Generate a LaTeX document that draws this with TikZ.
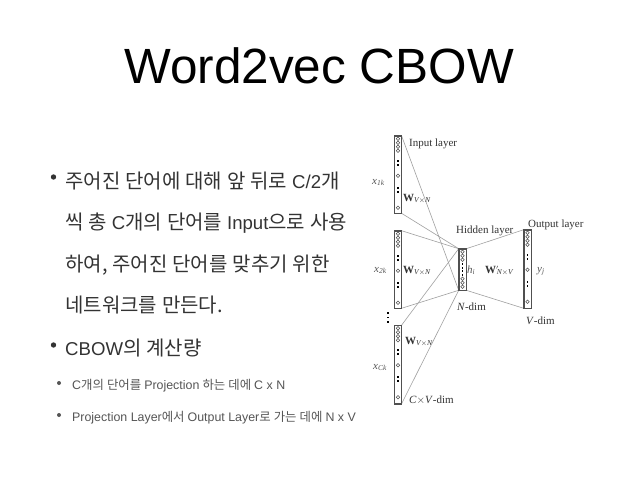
\documentclass[tikz,border=0pt]{standalone}
\usepackage{fontspec}
\setmainfont{Liberation Sans}
\newfontfamily\kr[WordSpace=1.1]{Noto Sans CJK KR}
\newfontfamily\ttl{Liberation Sans}
\newfontfamily\arl[Scale=0.93]{Liberation Sans}
\newfontfamily\arn{Liberation Sans}
\newfontfamily\tms{Liberation Serif}
\newcommand\lat[1]{{\arl #1}}
\newcommand\latn[1]{{\arn #1}}
\definecolor{bodyc}{HTML}{333333}
\definecolor{subc}{HTML}{555555}
\definecolor{colc}{HTML}{505050}
\definecolor{linec}{HTML}{A0A0A0}
\definecolor{labc}{HTML}{333333}
\definecolor{mathc}{HTML}{555555}
\tikzset{
  body/.style={font=\kr\fontsize{20}{22}\selectfont, text=bodyc, inner sep=0pt, anchor=base west},
  subtext/.style={font=\kr\fontsize{12.4}{13}\selectfont, text=subc, inner sep=0pt, anchor=base west},
  lab/.style={font=\tms\fontsize{11}{12}\selectfont, text=labc, inner sep=0pt, anchor=base west},
  mlab/.style={font=\tms\fontsize{11}{12}\selectfont, text=mathc, inner sep=0pt, anchor=base west},
  layer/.style={draw=colc, line width=0.6pt, rectangle, inner sep=0pt, minimum width=6.5pt},
  conn/.style={draw=linec, line width=0.6pt},
  cir/.style={draw=colc, line width=0.5pt},
  dotc/.style={fill=black},
}
\newcommand\sbs[1]{\textsubscript{\fontsize{7.5}{8}\selectfont\itshape #1}}
\newcommand\incol[1]{%
  \foreach \yy in {3,7,11,15,40,72}{\draw[cir] ([yshift=-\yy pt]#1.north) circle (1.7pt);}
  \foreach \yy in {25,29,52,56}{\fill[dotc] ([xshift=-0.8pt,yshift=-\yy pt-0.8pt]#1.north) rectangle ++(1.6pt,1.6pt);}
}
\newcommand\hidcol[1]{%
  \foreach \yy in {3,7,11,30,34,38}{\draw[cir] ([yshift=-\yy pt]#1.north) circle (1.7pt);}
  \foreach \yy in {15.5,19,22.5,26}{\fill[dotc] ([xshift=-0.8pt,yshift=-\yy pt-0.8pt]#1.north) rectangle ++(1.6pt,1.6pt);}
}
\begin{document}
\begin{tikzpicture}[x=1pt,y=1pt]
\useasboundingbox[fill=white] (0,0) rectangle (638,-479);

% title
\node[font=\ttl\fontsize{49.5}{50}\selectfont, inner sep=0pt, anchor=base] (title) at (319,-83) {Word2vec CBOW};

% bullets
\fill[bodyc] (53.5,-177) circle (2.7pt);
\node[body] (l1) at (65,-188) {주어진 단어에 대해 앞 뒤로 \lat{C/2}개};
\node[body] (l2) at (65,-229.5) {씩 총 \lat{C}개의 단어를 \lat{Input}으로 사용};
\node[body] (l3) at (65,-271) {하여, 주어진 단어를 맞추기 위한};
\node[body] (l4) at (65,-312.5) {네트워크를 만든다.};
\fill[bodyc] (53.5,-345) circle (2.7pt);
\node[body] (l5) at (65,-355) {\lat{CBOW}의 계산량};
\fill[subc] (59,-383) circle (2pt);
\node[subtext] (s1) at (72,-389) {\latn{C}개의 단어를 \latn{Projection} 하는 데에 \latn{C x N}};
\fill[subc] (59,-415) circle (2pt);
\node[subtext] (s2) at (72,-421) {\latn{Projection Layer}에서 \latn{Output Layer}로 가는 데에 \latn{N x V}};

% diagram layers
\node[layer, minimum height=77pt] (c1) at (398,-174.5) {};
\node[layer, minimum height=77pt] (c2) at (398,-269.5) {};
\node[layer, minimum height=78pt] (c3) at (398,-364.5) {};
\node[layer, minimum width=7pt, minimum height=41pt] (h) at (462.5,-269.5) {};
\node[layer, minimum width=7pt, minimum height=78pt] (o) at (527.5,-269) {};

% connections
\draw[conn] (c1.north east) -- (h.south west);
\draw[conn] (c1.south east) -- (h.north west);
\draw[conn] (c2.north east) -- (h.north west);
\draw[conn] (c2.south east) -- (h.south west);
\draw[conn] (c3.north east) -- (h.north west);
\draw[conn] (c3.south east) -- (h.south west);
\draw[conn] (h.north east) -- (o.north west);
\draw[conn] (h.south east) -- (o.south west);

% redraw layer borders on top
\foreach \n in {c1,c2,c3,h,o}{\draw[colc, line width=0.6pt] (\n.north west) rectangle (\n.south east);}

\incol{c1}
\incol{c2}
\incol{c3}
\incol{o}
\hidcol{h}

% vertical dots between c2 and c3
\foreach \yy in {313,317.5,322}{\fill[dotc] (387.1,-\yy-0.9) rectangle ++(1.8,1.8);}

% labels
\node[lab] (tin) at (409,-146) {Input layer};
\node[lab] (thid) at (456,-233) {Hidden layer};
\node[lab] (tout) at (528,-227) {Output layer};
\node[mlab] (x1) at (372,-184) {\textit{x}\sbs{1k}};
\node[mlab] (x2) at (374,-272) {\textit{x}\sbs{2k}};
\node[mlab] (xc) at (373,-369) {\textit{x}\sbs{Ck}};
\node[lab] (w1) at (403,-201) {\textbf{W}\sbs{V$\times$N}};
\node[lab] (w2) at (403,-273) {\textbf{W}\sbs{V$\times$N}};
\node[lab] (w3) at (405,-344) {\textbf{W}\sbs{V$\times$N}};
\node[mlab] (hi) at (467,-273) {\textit{h}\sbs{i}};
\node[lab] (wp) at (485,-273) {\textbf{W}\textsuperscript{\fontsize{6}{6}\selectfont$\prime$}\hspace{-2pt}\sbs{N$\times$V}};
\node[mlab] (yj) at (537,-272) {\textit{y}\sbs{j}};
\node[lab] (nd) at (457,-310) {\textit{N}-dim};
\node[lab] (vd) at (526,-324) {\textit{V}-dim};
\node[lab] (cvd) at (409,-403) {\textit{C}$\times$\textit{V}-dim};
\end{tikzpicture}
\end{document}
